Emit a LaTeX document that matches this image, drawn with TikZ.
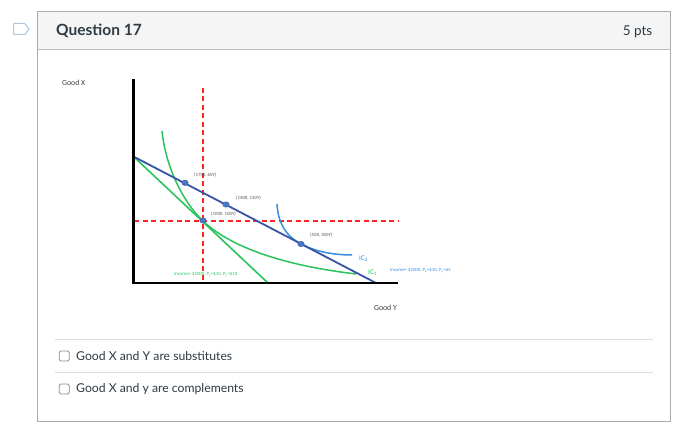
\documentclass[tikz,border=0pt]{standalone}
\usepackage{fontspec}
\setmainfont{Lato}
\newfontfamily\calib{Carlito}
\definecolor{cardline}{HTML}{ABABAB}
\definecolor{headfill}{HTML}{F5F5F5}
\definecolor{sepline}{HTML}{DDDDDD}
\definecolor{inktext}{HTML}{2D3B45}
\definecolor{iconcol}{HTML}{B2C6DA}
\definecolor{boxcol}{HTML}{8A8F94}
\definecolor{budblue}{HTML}{3655A6}
\definecolor{icblue}{HTML}{3A8EDB}
\definecolor{dotblue}{HTML}{4A78C6}
\definecolor{grn}{HTML}{2BC45C}
\definecolor{redd}{HTML}{FF2424}
\definecolor{lbl}{HTML}{555555}
\definecolor{axlbl}{HTML}{404040}
\tikzset{
  axisline/.style={line width=2.6pt, black},
  redline/.style={redd, line width=1.4pt, dash pattern=on 5pt off 3.5pt},
  budget/.style={budblue, line width=1.8pt},
  gbudget/.style={grn, line width=1.6pt},
  gcurve/.style={grn, line width=1.5pt},
  bcurve/.style={icblue, line width=1.5pt},
  dotmark/.style={ellipse, minimum width=6.5pt, minimum height=5.5pt, inner sep=0pt, fill=dotblue, draw=budblue, line width=0.4pt},
  ptlabel/.style={font=\calib\fontsize{4.8}{5}\selectfont, text=lbl, inner sep=0pt},
  axlabel/.style={font=\calib\fontsize{7.8}{9}\selectfont, text=axlbl, inner sep=0pt},
  chk/.style={draw=boxcol, line width=0.8pt, rounded corners=1.5pt, minimum width=10pt, minimum height=10pt, inner sep=0pt},
  opt/.style={font=\fontsize{12.2}{14}\selectfont, text=inktext, anchor=west, inner sep=0pt},
}
\usetikzlibrary{shapes.geometric}
\begin{document}
\begin{tikzpicture}[x=1pt,y=-1pt]
\useasboundingbox (0,0) rectangle (697,441);
\fill[white] (0,0) rectangle (697,441);
% icon
\draw[iconcol, line width=1pt, rounded corners=0.8pt] (13.5,23.5) -- (25,23.5) -- (29,29) -- (25,34.5) -- (13.5,34.5) -- cycle;
% card
\fill[headfill] (37.5,11.5) rectangle (670.5,49);
\draw[cardline, line width=1pt] (37.5,11.5) rectangle (670.5,421);
\draw[cardline!80, line width=0.8pt] (37.5,49) -- (670.5,49);
\node[font=\bfseries\fontsize{15.5}{18}\selectfont, text=inktext, anchor=west, inner sep=0pt] (qtitle) at (56,31) {Question 17};
\node[font=\fontsize{13.5}{15}\selectfont, text=inktext, anchor=east, inner sep=0pt] (pts) at (652.5,31.5) {5 pts};
% graph coordinates
\coordinate (yaxtop) at (133.5,79);
\coordinate (origin) at (133.5,283);
\coordinate (xaxend) at (398,283);
\coordinate (redvtop) at (203,88);
\coordinate (redvbot) at (203,283);
\coordinate (redhl) at (134,221);
\coordinate (redhr) at (398,221);
\coordinate (bstart) at (133.5,156.5);
\coordinate (bend) at (376,283);
\coordinate (gend) at (268,283);
% dashed red
\draw[redline] (redvtop) -- (redvbot);
\draw[redline] (redhl) -- (redhr);
% green budget
\draw[gbudget] (bstart) -- (gend);
% green IC1
\draw[gcurve] (162,131) .. controls (166,170) and (185,204) .. (203,221)
  .. controls (218,235) and (255,262) .. (356,274);
% blue IC2
\draw[bcurve] (277,204) .. controls (278,222) and (285,235.6) .. (301,244)
  .. controls (316,252) and (335,255) .. (352,255);
% blue budget
\draw[budget] (bstart) -- (bend);
% axes
\draw[axisline] (yaxtop) -- (origin) -- (xaxend);
% dots
\node[dotmark] (d1) at (185,182.8) {};
\node[dotmark] (d2) at (226,204.5) {};
\node[dotmark] (d3) at (203,220.5) {};
\node[dotmark] (d4) at (301,244) {};
% point labels
\node[ptlabel, anchor=west] (l1) at (194,175.5) {(170X, 60Y)};
\node[ptlabel, anchor=west] (l2) at (236,198.5) {(140X, 120Y)};
\node[ptlabel, anchor=west] (l3) at (211,214) {(100X, 100Y)};
\node[ptlabel, anchor=west] (l4) at (310,235) {(50X, 300Y)};
% IC labels
\node[font=\calib\fontsize{7.2}{8}\selectfont, text=icblue, inner sep=0pt, anchor=west] (ic2) at (359,258.5) {IC\textsubscript{2}};
\node[font=\calib\fontsize{7.2}{8}\selectfont, text=grn, inner sep=0pt, anchor=west] (ic1) at (368,272.5) {IC\textsubscript{1}};
% income labels
\node[font=\calib\fontsize{4.8}{5}\selectfont, text=grn, inner sep=0pt, anchor=west] (incg) at (174,274.3) {Income= \$2000, P\textsubscript{x}=\$10, P\textsubscript{y}=\$10};
\node[font=\calib\fontsize{4.8}{5}\selectfont, text=icblue, inner sep=0pt, anchor=west] (incb) at (390,271) {Income= \$2000, P\textsubscript{x}=\$10, P\textsubscript{y}=\$5};
% axis labels
\node[axlabel, anchor=west] (gx) at (62,82.5) {Good X};
\node[axlabel] (gy) at (385.5,307.5) {Good Y};
% answers
\draw[sepline, line width=1pt] (55,339.3) -- (653,339.3);
\draw[sepline, line width=1pt] (55,372.3) -- (653,372.3);
\node[chk] (c1) at (64.3,356) {};
\node[chk] (c2) at (64.3,389) {};
\node[opt] (o1) at (76,356) {Good X and Y are substitutes};
\node[opt] (o2) at (76,389) {Good X and y are complements};
\end{tikzpicture}
\end{document}
